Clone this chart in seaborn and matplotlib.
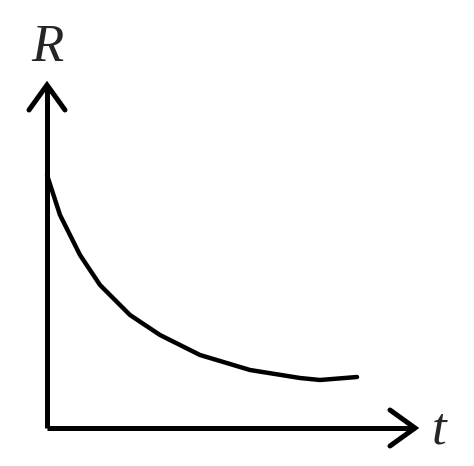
import matplotlib
matplotlib.use("Agg")
import matplotlib.pyplot as plt
import seaborn as sns
import pandas as pd

# curve values (in pixel-like units from origin)
t_vals = [0, 13, 33, 53, 83, 113, 153, 203, 253, 273, 310]
r_vals = [253, 213, 173, 143, 113, 93, 73, 58, 50, 48, 51]
x_label = "t"
y_label = "R"

sns.set_style("white")
fig = plt.figure(figsize=(4.74, 4.66), dpi=100)
ax = fig.add_axes([0, 0, 1, 1])
ax.set_xlim(-47, 474 - 47)
ax.set_ylim(-(466 - 428), 428)
ax.axis("off")

df = pd.DataFrame({"t": t_vals, "R": r_vals})
sns.lineplot(data=df, x="t", y="R", ax=ax, color="black", lw=3.2, estimator=None)

lw = 3.6
ax.plot([0, 0], [0, 343], color="black", lw=lw, solid_capstyle="butt")
ax.plot([0, 368], [0, 0], color="black", lw=lw, solid_capstyle="butt")
ax.plot([-18, 0, 18], [318, 343, 318], color="black", lw=lw, solid_joinstyle="miter")
ax.plot([343, 368, 343], [18, 0, -18], color="black", lw=lw, solid_joinstyle="miter")

ax.text(0, 380, y_label, fontsize=38, family="Liberation Serif", style="italic", ha="center", va="center")
ax.text(392, -3, x_label, fontsize=38, family="Liberation Serif", style="italic", ha="center", va="center")

fig.savefig("out.png", dpi=100)
